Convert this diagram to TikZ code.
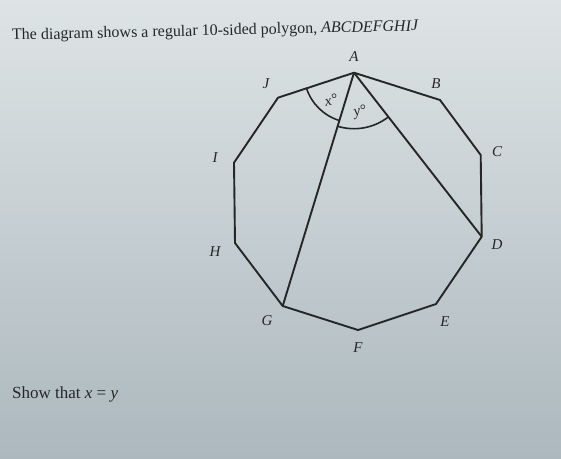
\documentclass[tikz,border=0pt]{standalone}
\usepackage{fontspec}
\setmainfont{Liberation Serif}
\usetikzlibrary{calc}
\begin{document}
\begin{tikzpicture}[x=1pt,y=-1pt,
  edge/.style={line width=1.9pt,draw=black!85,line join=miter},
  arcline/.style={line width=1.6pt,draw=black!85},
  vlabel/.style={font=\fontsize{15}{15}\selectfont\itshape,text=black!85,inner sep=0pt},
  txt/.style={font=\fontsize{16}{17}\selectfont,text=black!85,inner sep=0pt,anchor=base west}]
\useasboundingbox (0,0) rectangle (561,458);
\shade[top color={rgb,255:red,222;green,228;blue,229},bottom color={rgb,255:red,172;green,184;blue,190}] (0,0) rectangle (561,458);
% vertices
\coordinate (A) at (354,72.7);
\coordinate (B) at (440,100);
\coordinate (C) at (480.7,155);
\coordinate (D) at (481.7,236.7);
\coordinate (E) at (436,304);
\coordinate (F) at (358,330);
\coordinate (G) at (282.7,306);
\coordinate (H) at (235,243);
\coordinate (I) at (234,162.7);
\coordinate (J) at (278,97.7);
\draw[edge] (A) -- (B) -- (C) -- (D) -- (E) -- (F) -- (G) -- (H) -- (I) -- (J) -- cycle;
\draw[edge] (A) -- (G);
\draw[edge] (A) -- (D);
% angle arcs
\draw[arcline] ($(A)!50pt!(J)$) arc[start angle=161.8,end angle=107,radius=50];
\draw[arcline] ($(A)!56pt!(G)$) arc[start angle=107,end angle=52.1,radius=56];
\node[vlabel,rotate=12] (xl) at (331,100) {x°};
\node[vlabel,rotate=12] (yl) at (360,112) {y°};
% vertex labels
\node[vlabel] (lA) at (354,57) {A};
\node[vlabel] (lB) at (436,84) {B};
\node[vlabel] (lC) at (497,152) {C};
\node[vlabel] (lD) at (497,245) {D};
\node[vlabel] (lE) at (445,322) {E};
\node[vlabel] (lF) at (358,348) {F};
\node[vlabel] (lG) at (267,321) {G};
\node[vlabel] (lH) at (215,252) {H};
\node[vlabel] (lI) at (215,158) {I};
\node[vlabel] (lJ) at (266,84) {J};
% texts
\node[txt,rotate=1.3] (title) at (12,40) {The diagram shows a regular 10-sided polygon, \textit{ABCDEFGHIJ}};
\node[txt,font=\fontsize{17}{18}\selectfont] (show) at (12,398) {Show that \textit{x} = \textit{y}};
\end{tikzpicture}
\end{document}
